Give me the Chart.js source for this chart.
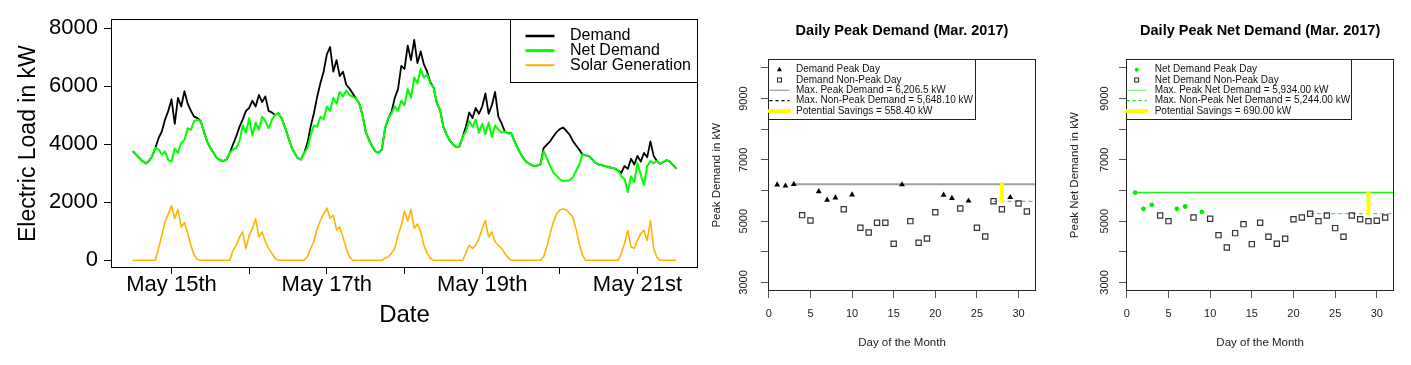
<!DOCTYPE html>
<html>
<head>
<meta charset="utf-8">
<script src="https://cdn.jsdelivr.net/npm/chart.js@4.4.1/dist/chart.umd.min.js"></script>
<style>
  body { margin: 0; background: #fff; }
  #wrap { position: relative; width: 1411px; height: 365px; }
  .panel { position: absolute; top: 0; height: 365px; }
</style>
</head>
<body>
<div id="wrap">
  <div class="panel" style="left:0;width:700px"><canvas id="loadChart"></canvas></div>
  <div class="panel" style="left:700px;width:360px"><canvas id="peakChart"></canvas></div>
  <div class="panel" style="left:1060px;width:351px"><canvas id="netChart"></canvas></div>
</div>
<script>
// ---- Hourly load, May 14th 12:00 -> May 21st 12:00 (hour 0 = "May 15th" tick) ----
const startHour = -12;
const tickHours = [0, 24, 48, 72, 96, 120, 144];
const dayLabels = ['May 15th', '', 'May 17th', '', 'May 19th', '', 'May 21st'];
const loadTicks = [0, 2000, 4000, 6000, 8000];

const demand = [
  3760, 3650, 3530, 3420, 3340, 3420, 3590, 3870, 4210, 4440, 4850, 5150,
  5550, 4700, 5600, 5300, 5830, 5400, 5150, 4950, 4900, 4800, 4440, 4100,
  3870, 3700, 3530, 3450, 3420, 3475, 3700, 3990, 4270, 4600, 4850, 5150,
  5250, 5500, 5300, 5700, 5450, 5650, 5150, 5100, 5010, 5070, 4900, 4610,
  4270, 3930, 3700, 3530, 3475, 3700, 4040, 4610, 5070, 5630, 6100, 6500,
  7100, 7350, 6500, 6900, 6350, 6500, 6050, 5920, 5750, 5580, 5410, 5010,
  4440, 4160, 3930, 3760, 3700, 3820, 4550, 4900, 5120, 5600, 5900, 6700,
  6600, 7400, 6900, 7600, 6800, 7200, 6750, 6500, 6140, 5950, 5410, 5180,
  4610, 4330, 4130, 3990, 3900, 3930, 4270, 4610, 5100, 4900, 5250, 5050,
  5300, 5750, 5050, 5350, 5800, 4950, 4720, 4440, 4380, 4380, 4100, 3870,
  3650, 3480, 3360, 3300, 3250, 3270, 3300, 3870, 3990, 4100, 4270, 4420,
  4520, 4580, 4460, 4330, 4120, 3960, 3820, 3650, 3620, 3590, 3480, 3360,
  3300, 3280, 3250, 3210, 3190, 3160, 3100, 3020, 3250, 3150, 3500, 3300,
  3600, 3400, 3700, 3550, 4100, 3600, 3420, 3330, 3390, 3450, 3400, 3280, 3160
];
const netDemand = [
  3760, 3650, 3530, 3420, 3340, 3420, 3590, 3870, 3820, 3650, 3750, 3450,
  3400, 3850, 3700, 4050, 4150, 4550, 4500, 4800, 4840, 4800, 4440, 4100,
  3870, 3700, 3530, 3450, 3420, 3475, 3700, 3820, 3870, 4100, 4650, 4400,
  4900, 4300, 4750, 4500, 4950, 4800, 4550, 4840, 5010, 5070, 4900, 4610,
  4270, 3930, 3700, 3530, 3475, 3700, 3870, 4300, 4650, 4600, 4950, 4850,
  5300, 5150, 5600, 5400, 5800, 5650, 5850, 5700, 5630, 5580, 5410, 5010,
  4440, 4160, 3930, 3760, 3700, 3820, 4550, 4900, 5070, 5300, 5150, 5500,
  5350, 5900, 5600, 6300, 6100, 6600, 6300, 6400, 6090, 5950, 5410, 5180,
  4610, 4330, 4130, 3990, 3900, 3930, 4270, 4450, 4800, 4600, 4850, 4400,
  4700, 4350, 4750, 4250, 4650, 4500, 4400, 4440, 4380, 4380, 4100, 3870,
  3650, 3480, 3360, 3300, 3250, 3270, 3300, 3760, 3530, 3250, 3020, 2910,
  2790, 2740, 2740, 2760, 2850, 3080, 3300, 3650, 3620, 3590, 3480, 3360,
  3300, 3280, 3250, 3210, 3190, 3160, 3100, 2900, 2800, 2350, 2900, 2700,
  3350, 2950, 2600, 3250, 3420, 3350, 3420, 3330, 3390, 3450, 3400, 3280, 3160
];
const solar = [
  0, 0, 0, 0, 0, 0, 0, 0, 410, 860, 1320, 1600,
  1880, 1450, 1750, 1150, 1300, 920, 520, 180, 30, 0, 0, 0,
  0, 0, 0, 0, 0, 0, 0, 350, 520, 800, 980, 410,
  860, 1090, 1430, 800, 980, 640, 410, 240, 70, 0, 0, 0,
  0, 0, 0, 0, 0, 0, 120, 410, 640, 1090, 1370, 1600,
  1800, 1450, 1550, 1050, 1150, 800, 410, 120, 0, 0, 0, 0,
  0, 0, 0, 0, 0, 0, 70, 120, 240, 410, 860, 1200,
  1700, 1350, 1750, 1100, 1250, 980, 520, 240, 70, 0, 0, 0,
  0, 0, 0, 0, 0, 0, 0, 270, 520, 410, 520, 750,
  1090, 1370, 800, 980, 640, 520, 410, 240, 90, 0, 0, 0,
  0, 0, 0, 0, 0, 0, 0, 120, 470, 920, 1320, 1600,
  1740, 1770, 1740, 1620, 1490, 1090, 580, 180, 0, 0, 0, 0,
  0, 0, 0, 0, 0, 0, 0, 240, 580, 1030, 470, 410,
  690, 920, 1030, 690, 1370, 410, 100, 0, 0, 0, 0, 0, 0
];

// ---- Daily peaks, March 2017 ----
const dayTicks = [0, 5, 10, 15, 20, 25, 30];
const peakTicks = [3000, 4000, 5000, 6000, 7000, 8000, 9000, 10000];

const peakDays = [1, 2, 3, 6, 7, 8, 10, 16, 21, 22, 24, 29];
const peakDayDemand = [6190, 6150, 6206.5, 5970, 5690, 5766, 5864, 6195, 5854, 5750, 5662, 5776];
const nonPeakDays = [4, 5, 9, 11, 12, 13, 14, 15, 17, 18, 19, 20, 23, 25, 26, 27, 28, 30, 31];
const nonPeakDemand = [5196, 5022, 5391, 4783, 4631, 4946, 4946, 4261, 5000, 4293, 4435, 5293, 5413, 4783, 4500, 5648.1, 5391, 5576, 5315];
const maxPeakDemand = 6206.5;
const maxNonPeakDemand = 5648.1;
const demandLineStart = [3, 27];   // first day of peak / non-peak reference lines
const demandSavingsDay = 28;

const netPeakDays = [1, 2, 3, 6, 7, 9];
const netPeakDemand = [5934, 5402, 5533, 5402, 5478, 5304];
const netNonPeakDays = [4, 5, 8, 10, 11, 12, 13, 14, 15, 16, 17, 18, 19, 20, 21, 22, 23, 24, 25, 26, 27, 28, 29, 30, 31];
const netNonPeakDemand = [5185, 5000, 5120, 5076, 4543, 4141, 4609, 4902, 4250, 4946, 4489, 4261, 4424, 5065, 5120, 5244, 5000, 5185, 4772, 4489, 5185, 5065, 5000, 5011, 5120];
const maxPeakNet = 5934;
const maxNonPeakNet = 5244;
const netLineStart = [1, 22];
const netSavingsDay = 29;

const FONT = 'Liberation Sans, Arial, sans-serif';
Chart.defaults.font.family = FONT;
Chart.defaults.color = '#000';

// box around the plot region
const framePlugin = {
  id: 'frame',
  afterDraw(chart, args, o) {
    const { ctx, chartArea: a } = chart;
    ctx.save();
    ctx.strokeStyle = o.color || '#000';
    ctx.lineWidth = 1;
    ctx.strokeRect(Math.round(a.left) + 0.5, Math.round(a.top) + 0.5,
      Math.round(a.right - a.left) - 1, Math.round(a.bottom - a.top) - 1);
    ctx.restore();
  }
};

// R style legend drawn inside the plot corner
const boxLegend = {
  id: 'boxLegend',
  afterDraw(chart, args, o) {
    if (!o.items) return;
    const { ctx, chartArea: a } = chart;
    const x0 = Math.round(o.align === 'right' ? a.right - o.width : a.left);
    const y0 = Math.round(a.top);
    ctx.save();
    ctx.strokeStyle = o.borderColor || '#000';
    ctx.lineWidth = 1;
    ctx.strokeRect(x0 + 0.5, y0 + 0.5, o.width - 1, o.height);
    ctx.font = o.font;
    ctx.textBaseline = 'middle';
    o.items.forEach((it, i) => {
      const y = y0 + o.firstRow + i * o.rowGap;
      const sx = x0 + o.symbolX;
      ctx.save();
      if (it.kind === 'line') {
        ctx.strokeStyle = it.color;
        ctx.lineWidth = it.width;
        ctx.lineCap = it.cap || 'butt';
        ctx.setLineDash(it.dash || []);
        ctx.beginPath();
        ctx.moveTo(sx - o.lineLen / 2, y);
        ctx.lineTo(sx + o.lineLen / 2, y);
        ctx.stroke();
      } else if (it.kind === 'triangle') {
        ctx.fillStyle = it.color;
        ctx.beginPath();
        ctx.moveTo(sx, y - 3);
        ctx.lineTo(sx + 2.6, y + 1.6);
        ctx.lineTo(sx - 2.6, y + 1.6);
        ctx.closePath();
        ctx.fill();
      } else if (it.kind === 'square') {
        ctx.strokeStyle = it.color;
        ctx.lineWidth = 1;
        ctx.strokeRect(sx - 2, y - 2, 4, 4);
      } else if (it.kind === 'dot') {
        ctx.fillStyle = it.color;
        ctx.beginPath();
        ctx.arc(sx, y, 2, 0, Math.PI * 2);
        ctx.fill();
      }
      ctx.restore();
      ctx.fillStyle = o.textColor || '#000';
      ctx.fillText(it.text, x0 + o.textX, y);
    });
    ctx.restore();
  }
};

const toPoints = arr => arr.map((v, i) => ({ x: startHour + i, y: v }));
const pairs = (xs, ys) => xs.map((x, i) => ({ x: x, y: ys[i] }));

// ---------------- Left: one week of load ----------------
new Chart(document.getElementById('loadChart'), {
  type: 'line',
  data: {
    datasets: [
      { label: 'Net Demand', data: toPoints(netDemand), borderColor: '#00ff00', borderWidth: 2, order: 0 },
      { label: 'Demand', data: toPoints(demand), borderColor: '#000000', borderWidth: 1.8, order: 1 },
      { label: 'Solar Generation', data: toPoints(solar), borderColor: '#ffb300', borderWidth: 1.6, order: 2 }
    ]
  },
  options: {
    responsive: true,
    maintainAspectRatio: false,
    animation: false,
    elements: { point: { radius: 0 }, line: { tension: 0, borderJoinStyle: 'round' } },
    layout: { padding: { left: 0, right: 2, top: 16, bottom: 0 } },
    plugins: {
      legend: { display: false },
      tooltip: { enabled: false },
      frame: { color: '#000' },
      boxLegend: {
        align: 'right', width: 188, height: 63, symbolX: 30, lineLen: 29, textX: 60,
        firstRow: 17, rowGap: 14.6, font: '16px ' + FONT, textColor: '#000', borderColor: '#000',
        items: [
          { kind: 'line', color: '#000', width: 2.5, text: 'Demand' },
          { kind: 'line', color: '#00ff00', width: 3, text: 'Net Demand' },
          { kind: 'line', color: '#ffb300', width: 2, text: 'Solar Generation' }
        ]
      }
    },
    scales: {
      x: {
        type: 'linear', min: -18.7, max: 162.7,
        afterBuildTicks: s => { s.ticks = tickHours.map(v => ({ value: v })); },
        afterFit: s => { s.height = 97; },
        border: { display: false },
        grid: { drawOnChartArea: false, drawTicks: true, tickLength: 6, tickColor: '#000' },
        ticks: { autoSkip: false, maxRotation: 0, padding: -2, color: '#000', font: { size: 22 },
          callback: (v, i) => dayLabels[i] },
        title: { display: true, text: 'Date', color: '#000', font: { size: 24 }, padding: { top: 0, bottom: 35 } }
      },
      y: {
        min: -265, max: 8310,
        afterBuildTicks: s => { s.ticks = loadTicks.map(v => ({ value: v })); },
        afterFit: s => { s.width = 111; },
        border: { display: false },
        grid: { drawOnChartArea: false, drawTicks: true, tickLength: 7, tickColor: '#000' },
        ticks: { padding: 6, color: '#000', font: { size: 22 }, callback: v => String(v) },
        title: { display: true, text: 'Electric Load in kW', color: '#000', font: { size: 23 }, padding: { top: 15, bottom: 0 } }
      }
    }
  },
  plugins: [framePlugin, boxLegend]
});

// ---------------- Right: daily peak scatter plots ----------------
function dailyChart(canvasId, cfg) {
  const refLineEnd = 40;
  return new Chart(document.getElementById(canvasId), {
    type: 'scatter',
    data: {
      datasets: [
        { data: [{ x: cfg.savingsDay, y: cfg.maxNonPeak }, { x: cfg.savingsDay, y: cfg.maxPeak }],
          showLine: true, borderColor: '#ffff00', borderWidth: 4, borderCapStyle: 'round', pointRadius: 0, order: 1 },
        { data: cfg.peakPoints, pointStyle: cfg.peakStyle, radius: cfg.peakRadius,
          backgroundColor: cfg.peakColor, borderColor: cfg.peakColor, borderWidth: 0, order: 0 },
        { data: cfg.nonPeakPoints, pointStyle: 'rect', radius: 3.7,
          backgroundColor: 'rgba(255,255,255,0)', borderColor: '#333', borderWidth: 1.2, order: 0 },
        { data: [{ x: cfg.lineStart[0], y: cfg.maxPeak }, { x: refLineEnd, y: cfg.maxPeak }],
          showLine: true, borderColor: cfg.peakLineColor, borderWidth: cfg.peakLineWidth, pointRadius: 0, order: 2 },
        { data: [{ x: cfg.lineStart[1], y: cfg.maxNonPeak }, { x: refLineEnd, y: cfg.maxNonPeak }],
          showLine: true, borderColor: cfg.dashColor, borderWidth: 1.3, borderDash: [4, 3], pointRadius: 0, order: 2 }
      ]
    },
    options: {
      responsive: true,
      maintainAspectRatio: false,
      animation: false,
      layout: { padding: { left: 0, right: cfg.rightPad, top: 0, bottom: 0 } },
      plugins: {
        legend: { display: false },
        tooltip: { enabled: false },
        title: { display: true, fullSize: false, text: cfg.title, color: '#000',
          font: { size: 14.5, weight: 'bold' }, padding: { top: 22, bottom: 20 } },
        frame: { color: '#222' },
        boxLegend: Object.assign({
          align: 'left', height: 60, lineLen: 20, firstRow: 10.7, rowGap: 10.3,
          font: '10px ' + FONT, textColor: '#111', borderColor: '#222'
        }, cfg.legend)
      },
      scales: {
        x: {
          type: 'linear', min: -0.1, max: 32.1,
          afterBuildTicks: s => { s.ticks = dayTicks.map(v => ({ value: v })); },
          afterFit: s => { s.height = 74; },
          border: { display: false },
          grid: { drawOnChartArea: false, drawTicks: true, tickLength: 7, tickColor: '#555' },
          ticks: { autoSkip: false, maxRotation: 0, padding: 9, color: '#222', font: { size: 11 } },
          title: { display: true, text: 'Day of the Month', color: '#222', font: { size: 11.5 }, padding: { top: 0, bottom: 15 } }
        },
        y: {
          min: 2720, max: 10280,
          afterBuildTicks: s => { s.ticks = peakTicks.map(v => ({ value: v })); },
          afterFit: s => { s.width = cfg.yWidth; },
          border: { display: false },
          grid: { drawOnChartArea: false, drawTicks: true, tickLength: 7, tickColor: '#555' },
          ticks: { autoSkip: false, minRotation: 90, maxRotation: 90, crossAlign: 'center', padding: cfg.yTickPad,
            color: '#222', font: { size: 11 }, callback: v => (v % 2000 === 1000 ? String(v) : '') },
          title: { display: true, text: cfg.yTitle, color: '#222', font: { size: 11.5 }, padding: { top: cfg.yTitlePad, bottom: 0 } }
        }
      }
    },
    plugins: [framePlugin, boxLegend]
  });
}

dailyChart('peakChart', {
  title: 'Daily Peak Demand (Mar. 2017)',
  yTitle: 'Peak Demand in kW',
  rightPad: 24, yWidth: 68, yTickPad: 4.5, yTitlePad: 10,
  peakPoints: pairs(peakDays, peakDayDemand), peakStyle: 'triangle', peakRadius: 3.4, peakColor: '#000',
  nonPeakPoints: pairs(nonPeakDays, nonPeakDemand),
  maxPeak: maxPeakDemand, maxNonPeak: maxNonPeakDemand, lineStart: demandLineStart, savingsDay: demandSavingsDay,
  peakLineColor: '#a0a0a0', peakLineWidth: 2, dashColor: '#a0a0a0',
  legend: {
    width: 208, symbolX: 11.5, textX: 28,
    items: [
      { kind: 'triangle', color: '#000', text: 'Demand Peak Day' },
      { kind: 'square', color: '#222', text: 'Demand Non-Peak Day' },
      { kind: 'line', color: '#a0a0a0', width: 1.3, text: 'Max. Peak Demand = 6,206.5 kW' },
      { kind: 'line', color: '#000', width: 1.2, dash: [3, 3], text: 'Max. Non-Peak Demand = 5,648.10 kW' },
      { kind: 'line', color: '#ffff00', width: 4, cap: 'round', text: 'Potential Savings = 558.40 kW' }
    ]
  }
});

dailyChart('netChart', {
  title: 'Daily Peak Net Demand (Mar. 2017)',
  yTitle: 'Peak Net Demand in kW',
  rightPad: 16.7, yWidth: 66, yTickPad: 2, yTitlePad: 8,
  peakPoints: pairs(netPeakDays, netPeakDemand), peakStyle: 'circle', peakRadius: 2.4, peakColor: '#00ee00',
  nonPeakPoints: pairs(netNonPeakDays, netNonPeakDemand),
  maxPeak: maxPeakNet, maxNonPeak: maxNonPeakNet, lineStart: netLineStart, savingsDay: netSavingsDay,
  peakLineColor: '#22ee22', peakLineWidth: 1.4, dashColor: '#44ee44',
  legend: {
    width: 226, symbolX: 10.7, textX: 28.7,
    items: [
      { kind: 'dot', color: '#00ee00', text: 'Net Demand Peak Day' },
      { kind: 'square', color: '#222', text: 'Net Demand Non-Peak Day' },
      { kind: 'line', color: '#90ee90', width: 1.3, text: 'Max. Peak Net Demand = 5,934.00 kW' },
      { kind: 'line', color: '#00ee00', width: 1.2, dash: [3, 3], text: 'Max. Non-Peak Net Demand = 5,244.00 kW' },
      { kind: 'line', color: '#ffff00', width: 4, cap: 'round', text: 'Potential Savings = 690.00 kW' }
    ]
  }
});
</script>
</body>
</html>
